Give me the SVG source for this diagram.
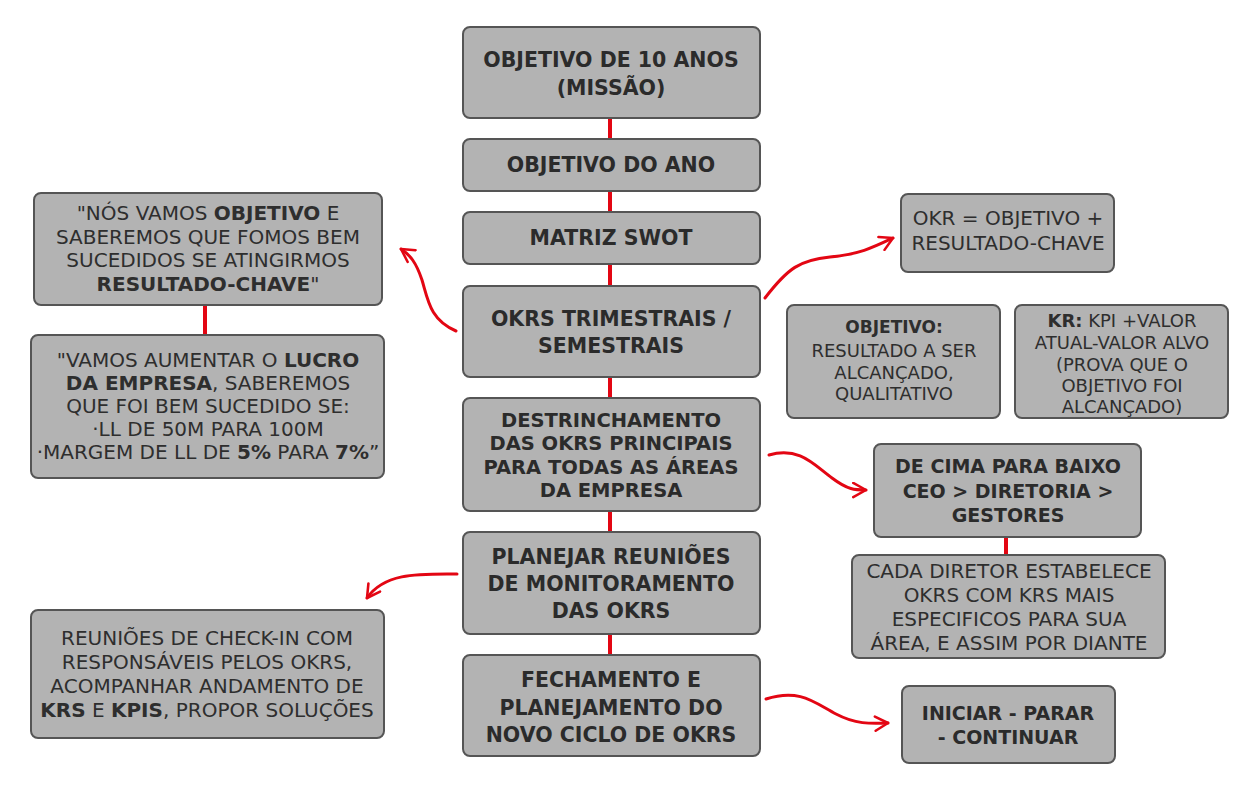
<svg xmlns="http://www.w3.org/2000/svg" width="1250" height="800" viewBox="0 0 1250 800">
<defs>
<style>
.box{fill:#b3b3b3;stroke:#555;stroke-width:2}
.m{font-family:"DejaVu Sans","Open Sans",sans-serif;font-weight:700;font-size:20.5px;fill:#2b2b2b;text-anchor:middle}
.l{font-family:"DejaVu Sans","Open Sans",sans-serif;font-weight:400;font-size:20px;fill:#2e2e2e;text-anchor:middle}
.s{font-size:18px}
.b{font-weight:700}
.line{stroke:#e30613;stroke-width:4;fill:none}
.arr{stroke:#e30613;stroke-width:3;fill:none;stroke-linecap:round}
</style>
<marker id="ah" viewBox="0 0 12 12" refX="10" refY="6" markerWidth="17" markerHeight="17" markerUnits="userSpaceOnUse" orient="auto">
<path d="M1,1 L10,6 L1,11" fill="none" stroke="#e30613" stroke-width="1.8" stroke-linecap="round" stroke-linejoin="round"/>
</marker>
</defs>
<rect width="1250" height="800" fill="#fff"/>
<g id="connectors">
<path class="line" d="M610,118 V139 M610,191 V212 M610,264 V286 M610,377 V398 M610,511 V532 M610,634 V655"/>
<path class="line" d="M205,305 V335"/>
<path class="line" d="M1006,537 V555"/>
<path class="arr" marker-end="url(#ah)" d="M456,331 C430,320 428,300 422,280 C416,262 410,255 401,249"/>
<path class="arr" marker-end="url(#ah)" d="M765,298 C788,268 800,260 830,257 C860,254 872,248 893,238"/>
<path class="arr" marker-end="url(#ah)" d="M769,455 C800,446 815,466 832,478 C848,490 855,490 866,490"/>
<path class="arr" marker-end="url(#ah)" d="M457,574 C420,574 385,572 367,598"/>
<path class="arr" marker-end="url(#ah)" d="M766,699 C800,688 815,703 836,714 C855,724 870,724 888,723"/>
</g>
<g id="n1"><rect class="box" x="463" y="27" width="297" height="91" rx="7"/><text class="m" x="611" y="67">OBJETIVO DE 10 ANOS</text><text class="m" x="611" y="95">(MISSÃO)</text></g>
<g id="n2"><rect class="box" x="463" y="139" width="297" height="52" rx="7"/><text class="m" x="611" y="172">OBJETIVO DO ANO</text></g>
<g id="n3"><rect class="box" x="463" y="212" width="297" height="52" rx="7"/><text class="m" x="611" y="245">MATRIZ SWOT</text></g>
<g id="n4"><rect class="box" x="463" y="286" width="297" height="91" rx="7"/><text class="m" x="611" y="326">OKRS TRIMESTRAIS /</text><text class="m" x="611" y="353">SEMESTRAIS</text></g>
<g id="n5"><rect class="box" x="463" y="398" width="297" height="113" rx="7"/><text class="m" x="611" y="427" style="font-size:19.5px">DESTRINCHAMENTO</text><text class="m" x="611" y="450" style="font-size:19.5px">DAS OKRS PRINCIPAIS</text><text class="m" x="611" y="474" style="font-size:19.5px">PARA TODAS AS ÁREAS</text><text class="m" x="611" y="497" style="font-size:19.5px">DA EMPRESA</text></g>
<g id="n6"><rect class="box" x="463" y="532" width="297" height="102" rx="7"/><text class="m" x="611" y="564">PLANEJAR REUNIÕES</text><text class="m" x="611" y="591">DE MONITORAMENTO</text><text class="m" x="611" y="618">DAS OKRS</text></g>
<g id="n7"><rect class="box" x="463" y="655" width="297" height="101" rx="7"/><text class="m" x="611" y="687">FECHAMENTO E</text><text class="m" x="611" y="715">PLANEJAMENTO DO</text><text class="m" x="611" y="742">NOVO CICLO DE OKRS</text></g>
<g id="q1"><rect class="box" x="34" y="193" width="348" height="112" rx="7"/><text class="l" x="208" y="220">"NÓS VAMOS <tspan class="b">OBJETIVO</tspan> E</text><text class="l" x="208" y="244">SABEREMOS QUE FOMOS BEM</text><text class="l" x="208" y="267">SUCEDIDOS SE ATINGIRMOS</text><text class="l" x="208" y="291"><tspan class="b">RESULTADO-CHAVE</tspan>"</text></g>
<g id="q2"><rect class="box" x="31" y="335" width="353" height="143" rx="7"/><text class="l" x="208" y="367">"VAMOS AUMENTAR O <tspan class="b">LUCRO</tspan></text><text class="l" x="208" y="390"><tspan class="b">DA EMPRESA</tspan>, SABEREMOS</text><text class="l" x="208" y="413">QUE FOI BEM SUCEDIDO SE:</text><text class="l" x="208" y="436">·LL DE 50M PARA 100M</text><text class="l" x="208" y="459">·MARGEM DE LL DE <tspan class="b">5%</tspan> PARA <tspan class="b">7%</tspan>”</text></g>
<g id="q3"><rect class="box" x="31" y="610" width="353" height="128" rx="7"/><text class="l" x="207" y="645">REUNIÕES DE CHECK-IN COM</text><text class="l" x="207" y="669">RESPONSÁVEIS PELOS OKRS,</text><text class="l" x="207" y="693">ACOMPANHAR ANDAMENTO DE</text><text class="l" x="207" y="717"><tspan class="b">KRS</tspan> E <tspan class="b">KPIS</tspan>, PROPOR SOLUÇÕES</text></g>
<g id="r1"><rect class="box" x="901" y="194" width="213" height="78" rx="7"/><text class="l" x="1008" y="225">OKR = OBJETIVO +</text><text class="l" x="1008" y="250">RESULTADO-CHAVE</text></g>
<g id="r2"><rect class="box" x="787" y="305" width="213" height="113" rx="7"/><text class="l s" x="894" y="333"><tspan class="b" style="font-size:17px">OBJETIVO:</tspan></text><text class="l s" x="894" y="357">RESULTADO A SER</text><text class="l s" x="894" y="379">ALCANÇADO,</text><text class="l s" x="894" y="400">QUALITATIVO</text></g>
<g id="r3"><rect class="box" x="1015" y="305" width="213" height="113" rx="7"/><text class="l s" x="1122" y="327"><tspan class="b">KR:</tspan> KPI +VALOR</text><text class="l s" x="1122" y="349">ATUAL-VALOR ALVO</text><text class="l s" x="1122" y="371">(PROVA QUE O</text><text class="l s" x="1122" y="392">OBJETIVO FOI</text><text class="l s" x="1122" y="413">ALCANÇADO)</text></g>
<g id="r4"><rect class="box" x="874" y="444" width="267" height="93" rx="7"/><text class="m" x="1008" y="473" style="font-size:19px">DE CIMA PARA BAIXO</text><text class="m" x="1008" y="498" style="font-size:19px">CEO &gt; DIRETORIA &gt;</text><text class="m" x="1008" y="522" style="font-size:19px">GESTORES</text></g>
<g id="r5"><rect class="box" x="852" y="555" width="313" height="103" rx="7"/><text class="l" x="1009" y="578">CADA DIRETOR ESTABELECE</text><text class="l" x="1009" y="602">OKRS COM KRS MAIS</text><text class="l" x="1009" y="626">ESPECIFICOS PARA SUA</text><text class="l" x="1009" y="650">ÁREA, E ASSIM POR DIANTE</text></g>
<g id="r6"><rect class="box" x="902" y="686" width="213" height="77" rx="7"/><text class="m" x="1008" y="720" style="font-size:19px">INICIAR - PARAR</text><text class="m" x="1008" y="744" style="font-size:19px">- CONTINUAR</text></g>
</svg>
